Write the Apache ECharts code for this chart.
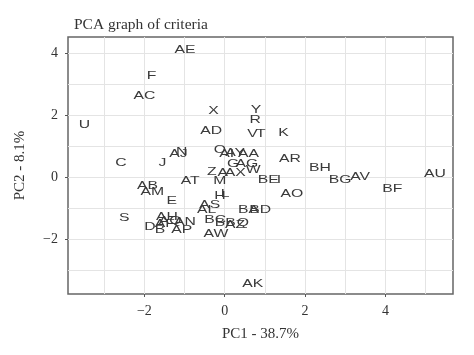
<!DOCTYPE html>
<html>
<head>
<meta charset="utf-8">
<script src="https://cdn.jsdelivr.net/npm/echarts@6/dist/echarts.min.js"></script>
<style>
html, body { margin: 0; padding: 0; background: #fff; }
#chart { width: 474px; height: 355px; }
</style>
</head>
<body>
<div id="chart"></div>
<script>
// criteria names and their PCA coordinates
var names = ["AE","F","AC","U","X","Y","R","V","T","K","AD",
    "AJ","N","O","AI","AY","AA","G","AG","W","Z","A","AX",
    "C","J","AR","BH","BG","AV","AU","BF","BE","I","AO",
    "AT","M","AB","AM","E","H","L","AS","AL","BA","BD",
    "S","AH","AQ","D","B","AF","AN","AP","AW","BC","BB","AZ","Q","AK"];
var pc1 = [-0.99,-1.82,-2.0,-3.49,-0.28,0.78,0.76,0.69,0.90,1.46,-0.34,
    -1.15,-1.07,-0.12,0.05,0.26,0.59,0.21,0.55,0.71,-0.32,-0.05,0.26,
    -2.58,-1.55,1.62,2.37,2.87,3.37,5.23,4.17,1.08,1.35,1.67,
    -0.86,-0.12,-1.92,-1.80,-1.32,-0.12,0.01,-0.37,-0.45,0.59,0.88,
    -2.50,-1.44,-1.36,-1.86,-1.61,-1.49,-0.99,-1.07,-0.22,-0.24,0.01,0.26,0.45,0.70];
var pc2 = [4.11,3.25,2.60,1.66,2.13,2.17,1.83,1.37,1.37,1.42,1.48,
    0.75,0.81,0.86,0.73,0.77,0.75,0.41,0.43,0.22,0.16,0.11,0.13,
    0.45,0.45,0.58,0.29,-0.11,-0.02,0.08,-0.39,-0.11,-0.11,-0.54,
    -0.13,-0.15,-0.30,-0.50,-0.77,-0.62,-0.56,-0.91,-1.07,-1.07,-1.07,
    -1.33,-1.29,-1.43,-1.62,-1.72,-1.53,-1.46,-1.72,-1.85,-1.40,-1.50,-1.56,-1.48,-3.45];
var gridX = [-3,-2,-1,0,1,2,3,4,5];
var gridY = [-3,-2,-1,0,1,2,3,4];
var tickX = [-2,0,2,4];
var tickY = [-2,0,2,4];

var chart = echarts.init(document.getElementById("chart"));

var points = [];
for (var i = 0; i < names.length; i++) {
    points.push([pc1[i], pc2[i]]);
}

function minus(v) {
    return String(v).replace("-", "\u2212");
}

var serif = "'Liberation Serif', 'DejaVu Serif', serif";
var xRange = {min: -3.9, max: 5.68};
var yRange = {min: -3.78, max: 4.52};

var option = {
    backgroundColor: "#fff",
    animation: false,
    title: {
        text: "PCA graph of criteria",
        left: 69,
        top: 12,
        textStyle: {
            color: "#333",
            fontFamily: serif,
            fontSize: 15.5,
            fontWeight: "normal"
        }
    },
    grid: {
        left: 68, right: 21, top: 37, bottom: 61,
        show: true,
        borderColor: "#666",
        borderWidth: 1.5,
        backgroundColor: "transparent"
    },
    xAxis: [{
        type: "value",
        min: xRange.min, max: xRange.max,
        name: "PC1 - 38.7%",
        nameLocation: "middle",
        nameGap: 33,
        nameTextStyle: {color: "#333", fontFamily: serif, fontSize: 15},
        axisLine: {show: false, onZero: false},
        axisTick: {show: false, customValues: gridX},
        axisLabel: {
            customValues: tickX,
            color: "#333", fontFamily: serif, fontSize: 14, margin: 10,
            formatter: minus
        },
        splitLine: {show: true, lineStyle: {color: "#e4e4e4", width: 1}}
    }, {
        type: "value",
        position: "bottom",
        min: xRange.min, max: xRange.max,
        axisLine: {show: false, onZero: false},
        axisTick: {show: true, customValues: tickX, length: 3, lineStyle: {color: "#555"}},
        axisLabel: {show: false},
        splitLine: {show: false}
    }],
    yAxis: [{
        type: "value",
        min: yRange.min, max: yRange.max,
        name: "PC2 - 8.1%",
        nameLocation: "middle",
        nameGap: 40,
        nameTextStyle: {color: "#333", fontFamily: serif, fontSize: 15},
        axisLine: {show: false, onZero: false},
        axisTick: {show: false, customValues: gridY},
        axisLabel: {
            customValues: tickY,
            color: "#333", fontFamily: serif, fontSize: 14, margin: 10,
            formatter: minus
        },
        splitLine: {show: true, lineStyle: {color: "#e4e4e4", width: 1}}
    }, {
        type: "value",
        position: "left",
        min: yRange.min, max: yRange.max,
        axisLine: {show: false, onZero: false},
        axisTick: {show: true, customValues: tickY, length: 3, lineStyle: {color: "#555"}},
        axisLabel: {show: false},
        splitLine: {show: false}
    }],
    series: [{
        type: "custom",
        xAxisIndex: 0,
        yAxisIndex: 0,
        data: points,
        renderItem: function (params, api) {
            var p = api.coord([api.value(0), api.value(1)]);
            return {
                type: "text",
                x: p[0],
                y: p[1],
                scaleX: 1.5,
                style: {
                    text: names[params.dataIndex],
                    fontFamily: "'Liberation Sans', Arial, sans-serif",
                    fontSize: 10.5,
                    fill: "#3a3a3a",
                    align: "center",
                    verticalAlign: "middle"
                }
            };
        }
    }]
};

chart.setOption(option);
</script>
</body>
</html>
